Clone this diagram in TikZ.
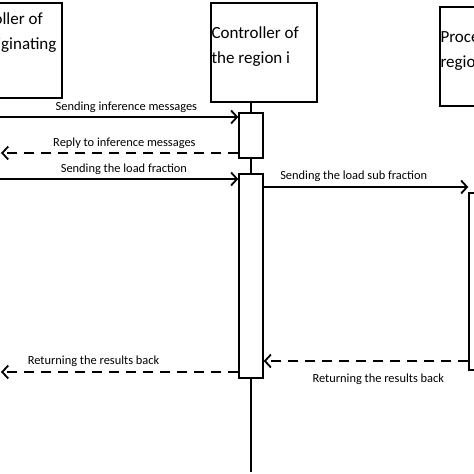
\documentclass[tikz,border=0pt]{standalone}
\usepackage{fontspec}
\setmainfont{Carlito}
\usetikzlibrary{arrows.meta,positioning}

\begin{document}
\begin{tikzpicture}[x=1pt,y=-1pt]
	\tikzset{
		ctrlbox/.style={draw,line width=1.4pt,inner sep=0pt,minimum width=106pt,minimum height=99pt},
		boxtext/.style={anchor=north west,align=left,inner sep=0pt,font=\fontsize{17}{25}\selectfont},
		actbox/.style={draw,fill=white,line width=1.4pt,inner sep=0pt,minimum width=24pt},
		msg/.style={line width=1.8pt,-{Straight Barb[length=6pt,width=13pt,line width=1.8pt]}},
		reply/.style={msg,dash pattern=on 10pt off 7pt},
		msglabel/.style={font=\fontsize{12.4}{14}\selectfont,inner sep=0pt}
	}
	\useasboundingbox (0,0) rectangle (474,474);
	\clip (0,0) rectangle (474,474);

	%% Controller boxes
	\node[ctrlbox,minimum width=107pt,minimum height=95pt] (orig) at (8.5,50.5) {};
	\node[ctrlbox] (ctrl) at (264,52.5) {};
	\node[ctrlbox] (proc) at (493,56.5) {};
	\node[boxtext] (origtxt) at ([xshift=1pt,yshift=-10pt]orig.north west) {Controller of\\the originating};
	\node[boxtext] (ctrltxt) at ([xshift=1pt,yshift=-24pt]ctrl.north west) {Controller of\\the region i};
	\node[boxtext] (proctxt) at ([xshift=1pt,yshift=-24pt]proc.north west) {Processors of\\region i};

	%% Activation boxes
	\node[actbox,minimum height=45pt] (act1) at (251,135.5) {};
	\node[actbox,minimum height=204pt] (act2) at (251,276) {};
	\node[actbox,minimum height=177pt] (act3) at (481,281.5) {};

	%% Lifeline
	\coordinate (lend) at (251,472);
	\draw[line width=1.4pt] (act1.north |- ctrl.south) -- (act1.north);
	\draw[line width=1.4pt] (act1.south) -- (act2.north);
	\draw[line width=1.4pt] (act2.south) -- (lend);

	%% Messages
	\coordinate (m1) at (-5,117);
	\coordinate (m2) at (1,153);
	\coordinate (m3) at (-5,179);
	\coordinate (m4) at (0,187);
	\coordinate (m5) at (0,361);
	\coordinate (m6) at (1,372);
	\path
		(m1) edge[msg] node[msglabel,above=3pt,pos=0.54] {Sending inference messages} (m1 -| act1.west)
		(m2 -| act1.west) edge[reply] node[msglabel,above=3pt,pos=0.48] {Reply to inference messages} (m2)
		(m3) edge[msg] node[msglabel,above=3pt,pos=0.53] {Sending the load fraction} (m3 -| act2.west)
		(m4 -| act2.east) edge[msg] node[msglabel,above=4pt,pos=0.44] {Sending the load sub fraction} (m4 -| act3.west)
		(m5 -| act3.west) edge[reply] node[msglabel,below=12pt,pos=0.44] {Returning the results back} (m5 -| act2.east)
		(m6 -| act2.west) edge[reply] node[msglabel,above=4pt,pos=0.61] {Returning the results back} (m6);
\end{tikzpicture}
\end{document}
